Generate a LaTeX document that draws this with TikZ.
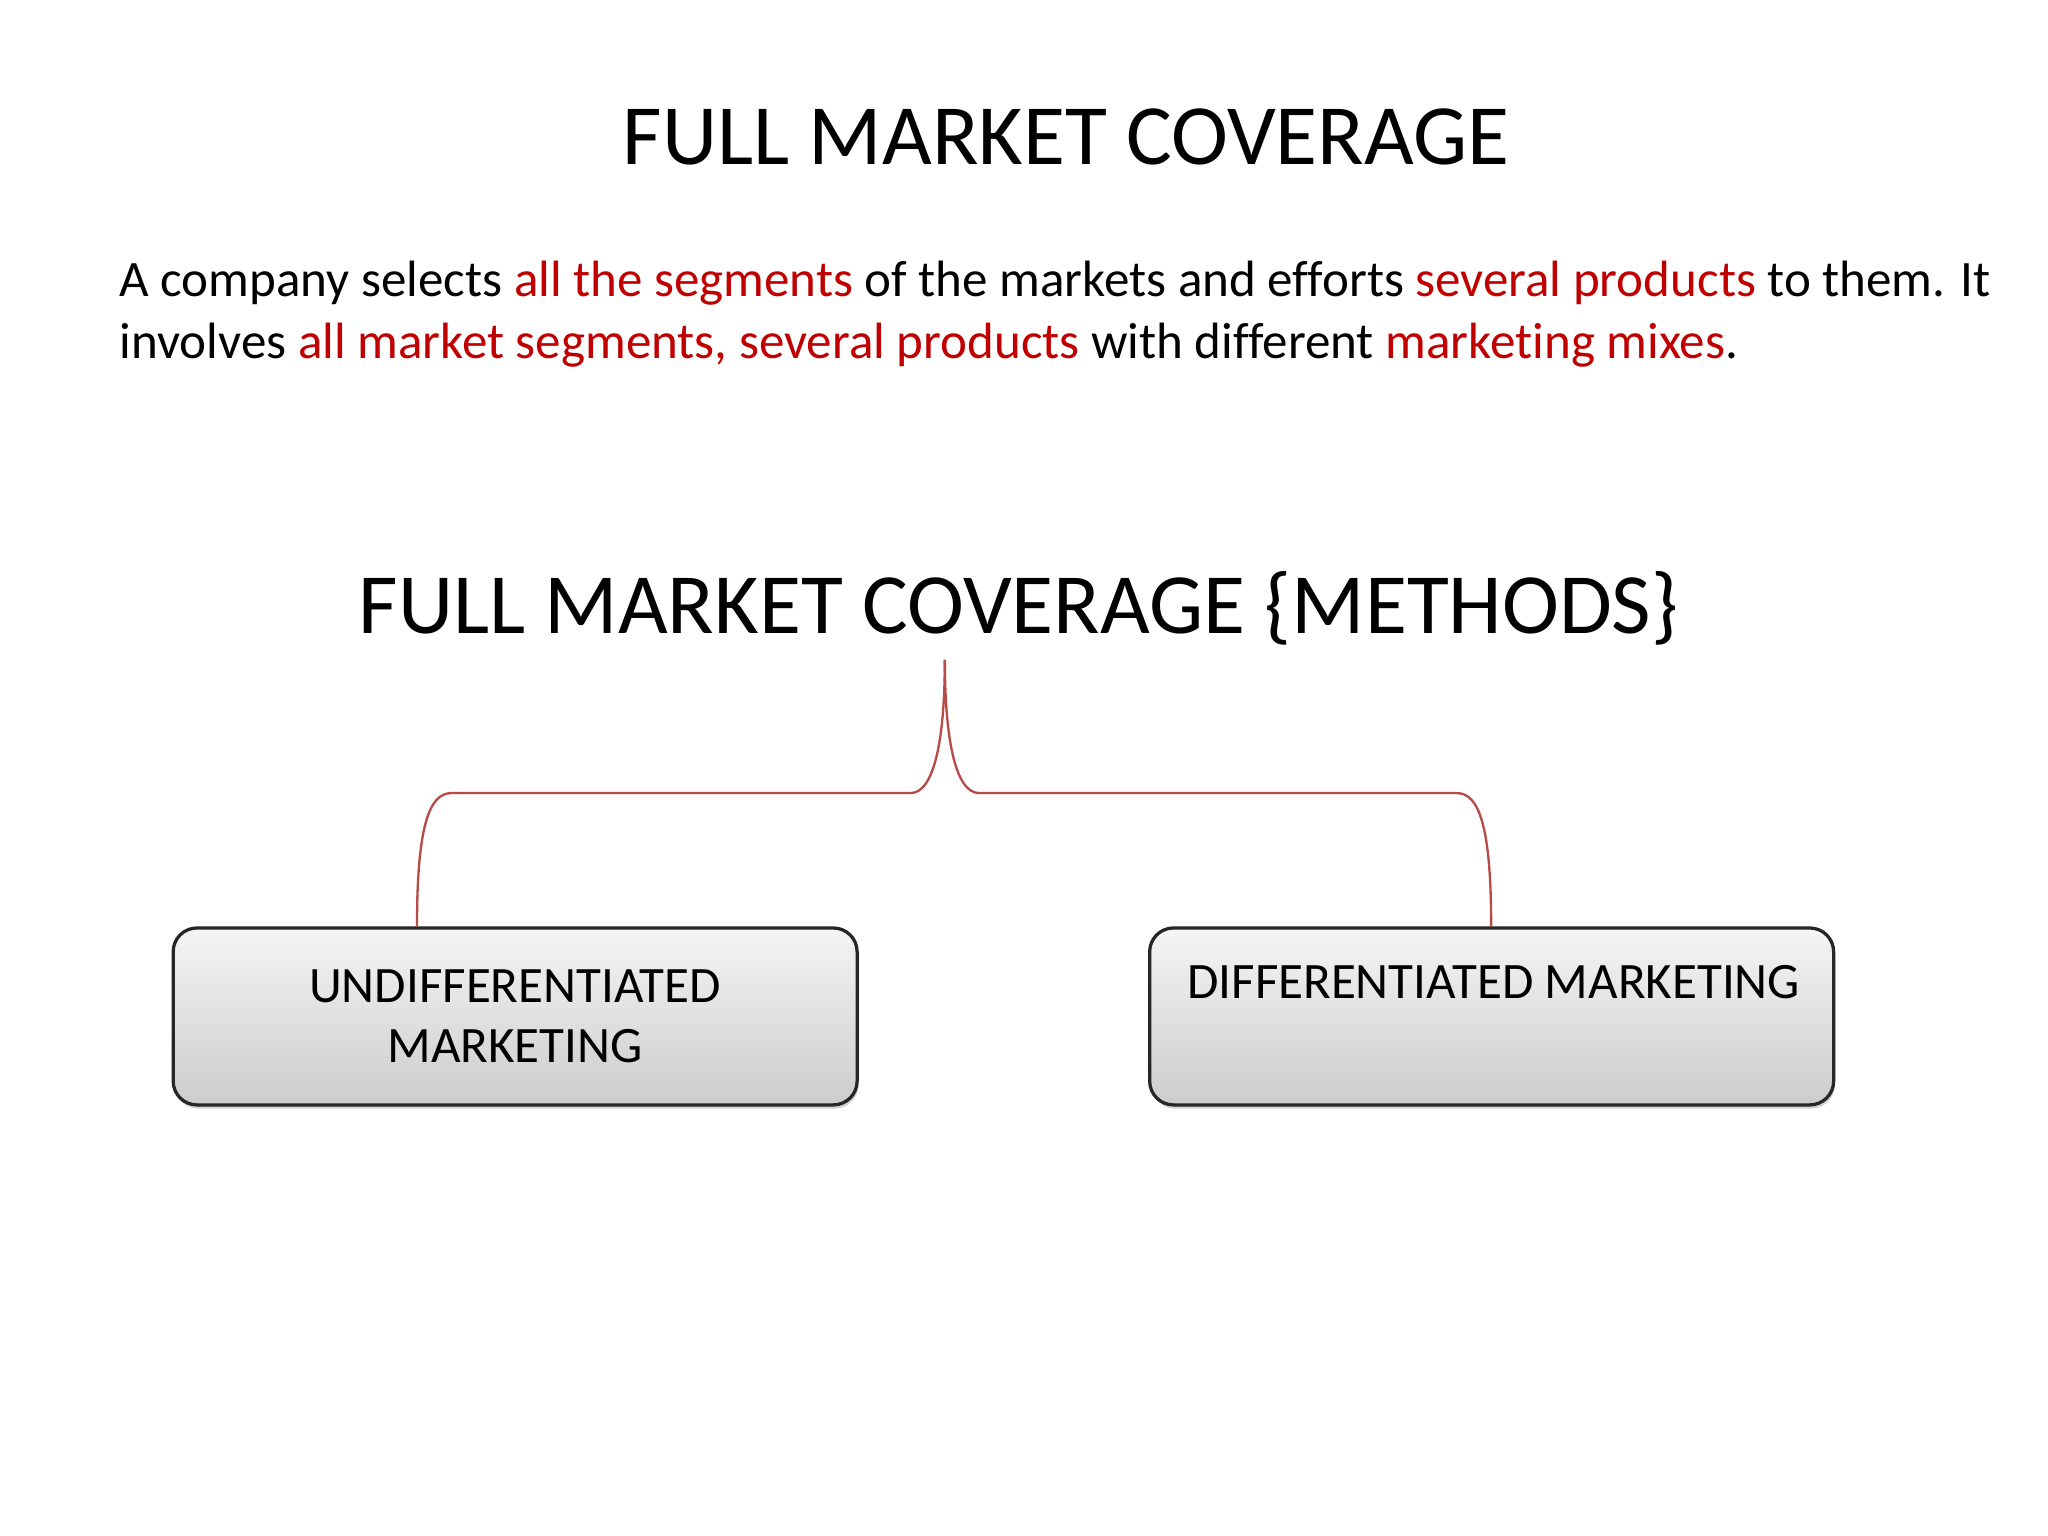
\documentclass[tikz,border=0pt]{standalone}
\usepackage{fontspec}
\setmainfont{Carlito}[Ligatures={NoCommon}]
\usetikzlibrary{shadows}
\definecolor{hl}{HTML}{C00000}
\definecolor{brace}{HTML}{B84A48}
\begin{document}
\begin{tikzpicture}[x=0.01cm,y=-0.01cm,
  box/.style={draw=black!85,line width=0.7pt,rounded corners=0.18cm,minimum width=5.18cm,minimum height=1.34cm,top color=gray!8,bottom color=gray!40,drop shadow={shadow xshift=0.3pt,shadow yshift=-0.8pt,opacity=0.35},align=center,font=\fontsize{11pt}{13pt}\selectfont,anchor=north west},
  bodytxt/.style={anchor=base west,inner sep=0pt,font=\fontsize{11pt}{12pt}\selectfont},
  conn/.style={draw=brace,line width=0.5pt}]
\useasboundingbox (0,0) rectangle (1552,1164);
\fill[white] (0,0) rectangle (1552,1164);
\node[anchor=base,inner sep=0pt,font=\fontsize{18.5pt}{22pt}\selectfont] (title) at (808,125) {FULL MARKET COVERAGE};
\node[bodytxt] (l1) at (90,225) {A company selects \textcolor{hl}{all the segments} of the markets and efforts \textcolor{hl}{several products} to them. It};
\node[bodytxt] (l2) at (90,272) {involves \textcolor{hl}{all market segments, several products} with different \textcolor{hl}{marketing mixes}.};
\node[anchor=base,inner sep=0pt,font=\fontsize{18.5pt}{22pt}\selectfont] (mt) at (772,480) {FULL MARKET COVERAGE \{METHODS\}};
\coordinate (top) at (716,500);
\node[box] (b1) at (130,702) {UNDIFFERENTIATED\\MARKETING};
\node[box] (b2) at (870,702) {};
\node[anchor=base,inner sep=0pt,font=\fontsize{11pt}{13pt}\selectfont] (b2t) at (1132,757) {DIFFERENTIATED MARKETING};
\draw[conn] (b1.north west)++(186,0) .. controls +(0,-75) and (325,601) .. (342,601) -- (690,601) .. controls (708,601) and (716,560) .. (top);
\draw[conn] (b2.north west)++(260,0) .. controls +(0,-75) and (1121,601) .. (1104,601) -- (742,601) .. controls (724,601) and (716,560) .. (top);
\end{tikzpicture}
\end{document}
